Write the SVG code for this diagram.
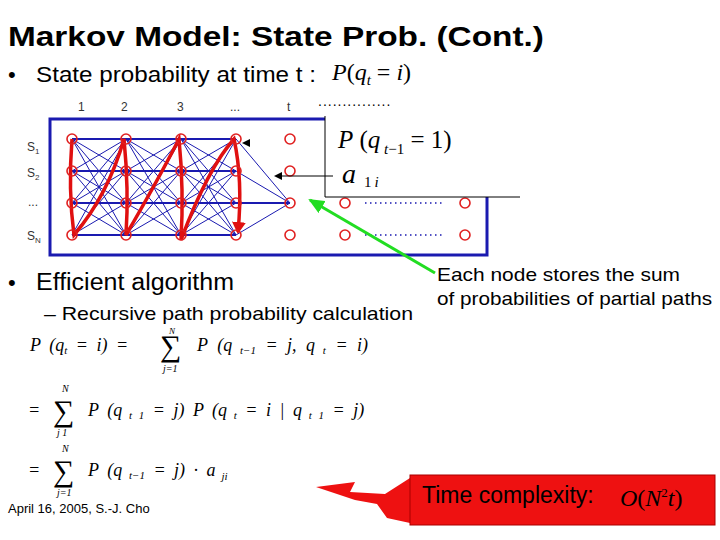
<svg xmlns="http://www.w3.org/2000/svg" width="720" height="540" viewBox="0 0 720 540">
<style>
.s{font-family:"Liberation Sans",Arial,sans-serif}
.m{font-family:"Liberation Serif","Times New Roman",serif;font-style:italic}
.n{fill:none;stroke:#e02020;stroke-width:1.6}
.b{stroke:#1a1ab0;stroke-width:1}
.bh{stroke:#1a1ab0;stroke-width:2.2}
.r{fill:none;stroke:#e01010;stroke-width:3.5}
</style>
<defs><marker id="ah" markerWidth="8" markerHeight="8" refX="6" refY="4" orient="auto" markerUnits="userSpaceOnUse"><path d="M0,0L8,4L0,8z" fill="#000"/></marker>
<marker id="ra" markerWidth="14" markerHeight="14" refX="10" refY="7" orient="auto" markerUnits="userSpaceOnUse"><path d="M0,0L12,7L0,14z" fill="#e01010"/></marker>
<marker id="ga" markerWidth="16" markerHeight="14" refX="14" refY="7" orient="auto" markerUnits="userSpaceOnUse"><path d="M0,0L16,7L0,14z" fill="#22dd22"/></marker></defs>
<rect width="720" height="540" fill="#fff"/>
<text x="8" y="46" class="s" font-size="27" font-weight="bold" textLength="536" lengthAdjust="spacingAndGlyphs">Markov Model: State Prob. (Cont.)</text>
<text x="8" y="82" class="s" font-size="22">•</text>
<text x="36" y="82" class="s" font-size="22" textLength="280" lengthAdjust="spacingAndGlyphs">State probability at time t :</text>
<text x="332" y="80" class="m" font-size="24">P<tspan style="font-style:normal">(</tspan>q<tspan font-size="15" dy="5">t</tspan><tspan dy="-5" style="font-style:normal"> = </tspan>i<tspan style="font-style:normal">)</tspan></text>
<text x="318" y="106" class="s" font-size="14" letter-spacing="1">...............</text>
<g class="s" font-size="12" fill="#333">
<text x="78" y="111">1</text><text x="121" y="111">2</text><text x="177" y="111">3</text><text x="230" y="111">...</text><text x="287" y="111">t</text>
<text x="27" y="151">S<tspan font-size="8" dy="3">1</tspan></text>
<text x="27" y="177">S<tspan font-size="8" dy="3">2</tspan></text>
<text x="28" y="206">...</text>
<text x="27" y="240">S<tspan font-size="8" dy="3">N</tspan></text>
</g>
<rect x="50" y="119" width="437" height="136" fill="none" stroke="#1a1ab0" stroke-width="3"/>
<g id="connectors">
<g class="b">
<path d="M72 139L126 171M72 139L126 203M72 139L126 235M72 171L126 139M72 171L126 203M72 171L126 235M72 203L126 139M72 203L126 171M72 203L126 235M72 235L126 139M72 235L126 171M72 235L126 203"/>
<path d="M126 139L181 171M126 139L181 203M126 139L181 235M126 171L181 139M126 171L181 203M126 171L181 235M126 203L181 139M126 203L181 171M126 203L181 235M126 235L181 139M126 235L181 171M126 235L181 203"/>
<path d="M181 139L236 171M181 139L236 203M181 139L236 235M181 171L236 139M181 171L236 203M181 171L236 235M181 203L236 139M181 203L236 171M181 203L236 235M181 235L236 139M181 235L236 171M181 235L236 203"/>
<path d="M236 139L290 203M236 171L290 203M236 235L290 203"/>
</g>
<g class="bh"><path d="M72 139H236M72 171H236M72 203H290M72 235H236"/></g>
<path d="M365 203H445M365 235H445" stroke="#1a1ab0" stroke-width="1.5" stroke-dasharray="1.5 3.5"/>
<path class="r" d="M72 139Q68 190 74 235Q108 195 124 139Q129 190 126 235Q158 180 179 139Q184 190 181 240Q208 168 234 139Q243 180 238 232" marker-end="url(#ra)"/>
</g>
<g id="nodes" class="n">
<circle cx="72" cy="139" r="5"/><circle cx="72" cy="171" r="5"/><circle cx="72" cy="203" r="5"/><circle cx="72" cy="235" r="5"/>
<circle cx="126" cy="139" r="5"/><circle cx="126" cy="171" r="5"/><circle cx="126" cy="203" r="5"/><circle cx="126" cy="235" r="5"/>
<circle cx="181" cy="139" r="5"/><circle cx="181" cy="171" r="5"/><circle cx="181" cy="203" r="5"/><circle cx="181" cy="235" r="5"/>
<circle cx="236" cy="139" r="5"/><circle cx="236" cy="171" r="5"/><circle cx="236" cy="203" r="5"/><circle cx="236" cy="235" r="5"/>
<circle cx="290" cy="139" r="5"/><circle cx="290" cy="171" r="5"/><circle cx="290" cy="203" r="5"/><circle cx="290" cy="235" r="5"/>
<circle cx="345" cy="203" r="5"/><circle cx="345" cy="235" r="5"/>
<circle cx="465" cy="203" r="5"/><circle cx="465" cy="235" r="5"/>
</g>
<rect x="325" y="116" width="200" height="81" fill="#fff"/>
<path d="M325 116V197H520" fill="none" stroke="#000" stroke-width="1"/>
<text x="338" y="148" class="m" font-size="25">P<tspan style="font-style:normal"> (</tspan>q<tspan font-size="15" dy="6"> t</tspan><tspan font-size="15" style="font-style:normal">−1</tspan><tspan dy="-6" style="font-style:normal">  = 1)</tspan></text>
<text x="342" y="183" class="m" font-size="28">a<tspan font-size="15" dy="4" dx="8" style="font-style:normal">1</tspan><tspan font-size="15" dx="3">i</tspan></text>
<path d="M333 176H276" stroke="#000" marker-end="url(#ah)"/>
<path d="M250 143H244" stroke="#000" marker-end="url(#ah)"/>
<path d="M435 273L310 200" stroke="#22dd22" stroke-width="3" marker-end="url(#ga)"/>
<text x="437" y="281" class="s" font-size="19" textLength="243" lengthAdjust="spacingAndGlyphs">Each node stores the sum</text>
<text x="437" y="305" class="s" font-size="19" textLength="275" lengthAdjust="spacingAndGlyphs">of probabilities of partial paths</text>
<text x="8" y="290" class="s" font-size="22">•</text>
<text x="36" y="290" class="s" font-size="23" textLength="198" lengthAdjust="spacingAndGlyphs">Efficient algorithm</text>
<text x="44" y="320" class="s" font-size="19" textLength="369" lengthAdjust="spacingAndGlyphs">–  Recursive path probability calculation</text>
<g class="m" font-size="18">
<text x="30" y="351" word-spacing="4">P (q<tspan font-size="11" dy="3">t</tspan><tspan dy="-3">  = i) =</tspan></text>
<text x="160" y="356" font-size="30" style="font-style:normal">∑</text><text x="169" y="334" font-size="9">N</text><text x="163" y="372" font-size="10">j=1</text>
<text x="197" y="351" word-spacing="5">P (q<tspan font-size="11" dy="3"> t−1</tspan><tspan dy="-3">  =  j, q</tspan><tspan font-size="11" dy="3"> t</tspan><tspan dy="-3">  = i)</tspan></text>
<text x="28" y="416">=</text>
<text x="53" y="421" font-size="30" style="font-style:normal">∑</text><text x="62" y="392" font-size="10">N</text><text x="57" y="436" font-size="10">j  1</text>
<text x="88" y="416" word-spacing="4">P (q<tspan font-size="11" dy="3"> t  1</tspan><tspan dy="-3">  =  j) P (q</tspan><tspan font-size="11" dy="3"> t</tspan><tspan dy="-3">  = i | q</tspan><tspan font-size="11" dy="3"> t  1</tspan><tspan dy="-3">  =  j)</tspan></text>
<text x="28" y="476">=</text>
<text x="53" y="481" font-size="30" style="font-style:normal">∑</text><text x="62" y="452" font-size="10">N</text><text x="57" y="496" font-size="10">j=1</text>
<text x="88" y="476" word-spacing="4">P (q<tspan font-size="11" dy="3"> t−1</tspan><tspan dy="-3">  =  j) · a</tspan><tspan font-size="11" dy="4" dx="6">ji</tspan></text>
</g>
<text x="8" y="513" class="s" font-size="13">April 16, 2005, S.-J. Cho</text>
<path d="M316 487L355 482L350 492L385 494L410 478V523L387 518L377 504L355 500Z" fill="#ee1111"/>
<rect x="410" y="475" width="305" height="50" fill="#ee1111" stroke="#aa0000"/>
<text x="422" y="503" class="s" font-size="23">Time complexity:</text>
<text x="620" y="506" class="m" font-size="24">O<tspan style="font-style:normal">(</tspan>N<tspan font-size="13" dy="-9" style="font-style:normal">2</tspan><tspan dy="9">t</tspan><tspan style="font-style:normal">)</tspan></text>
</svg>
